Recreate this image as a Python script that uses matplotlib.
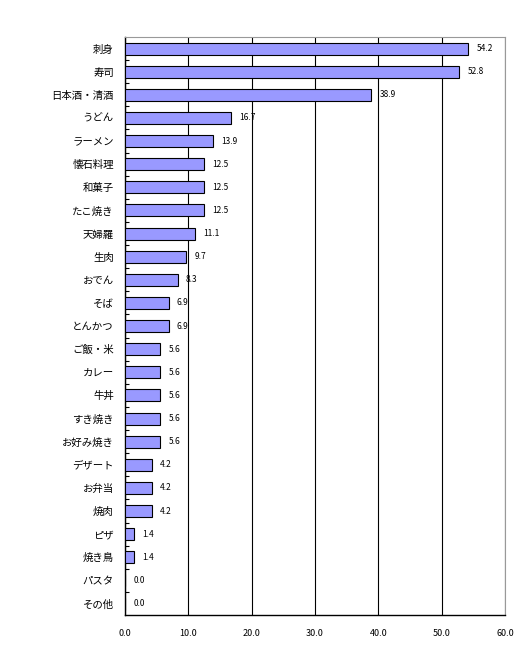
import matplotlib
matplotlib.use("Agg")
import matplotlib.pyplot as plt
import numpy as np

plt.rcParams['font.family'] = ['Noto Sans CJK JP', 'DejaVu Sans']

labels = ["刺身", "寿司", "日本酒・清酒", "うどん", "ラーメン", "懐石料理", "和菓子",
          "たこ焼き", "天婦羅", "生肉", "おでん", "そば", "とんかつ", "ご飯・米",
          "カレー", "牛丼", "すき焼き", "お好み焼き", "デザート", "お弁当", "焼肉",
          "ピザ", "焼き鳥", "パスタ", "その他"]
values = [54.2, 52.8, 38.9, 16.7, 13.9, 12.5, 12.5, 12.5, 11.1, 9.7, 8.3, 6.9, 6.9,
          5.6, 5.6, 5.6, 5.6, 5.6, 4.2, 4.2, 4.2, 1.4, 1.4, 0.0, 0.0]
xticks = [0, 10, 20, 30, 40, 50, 60]

fig = plt.figure(figsize=(5.25, 6.6), dpi=100)
ax = fig.add_axes([0.238, 0.068, 0.724, 0.876])

y = np.arange(len(labels))
ax.barh(y, values, height=0.52, color="#9999FF", edgecolor="black", linewidth=0.8, zorder=3)
for yi, v in zip(y, values):
    ax.annotate(f"{v:.1f}", (v, yi), xytext=(6, 0), textcoords="offset points",
                va="center", ha="left", fontsize=6, zorder=4)

ax.set_xlim(0, 60)
ax.set_ylim(len(labels) - 0.5, -0.5)
ax.set_xticks(xticks)
ax.set_xticklabels([f"{t:.1f}" for t in xticks], fontsize=6.5)
ax.set_yticks(y)
ax.set_yticklabels(labels, fontsize=7.5)
ax.set_yticks(np.arange(1, len(labels)) - 0.5, minor=True)
ax.tick_params(axis="y", which="major", length=0, pad=8)
ax.tick_params(axis="y", which="minor", direction="in", length=3, width=0.8)
ax.tick_params(axis="x", length=0, pad=10)
ax.grid(axis="x", color="black", linewidth=0.8, zorder=0)
ax.spines["top"].set_color("#999999")
ax.spines["right"].set_color("#999999")
ax.spines["left"].set_linewidth(1.0)
ax.spines["bottom"].set_linewidth(1.0)

fig.savefig("out.png", dpi=100)
